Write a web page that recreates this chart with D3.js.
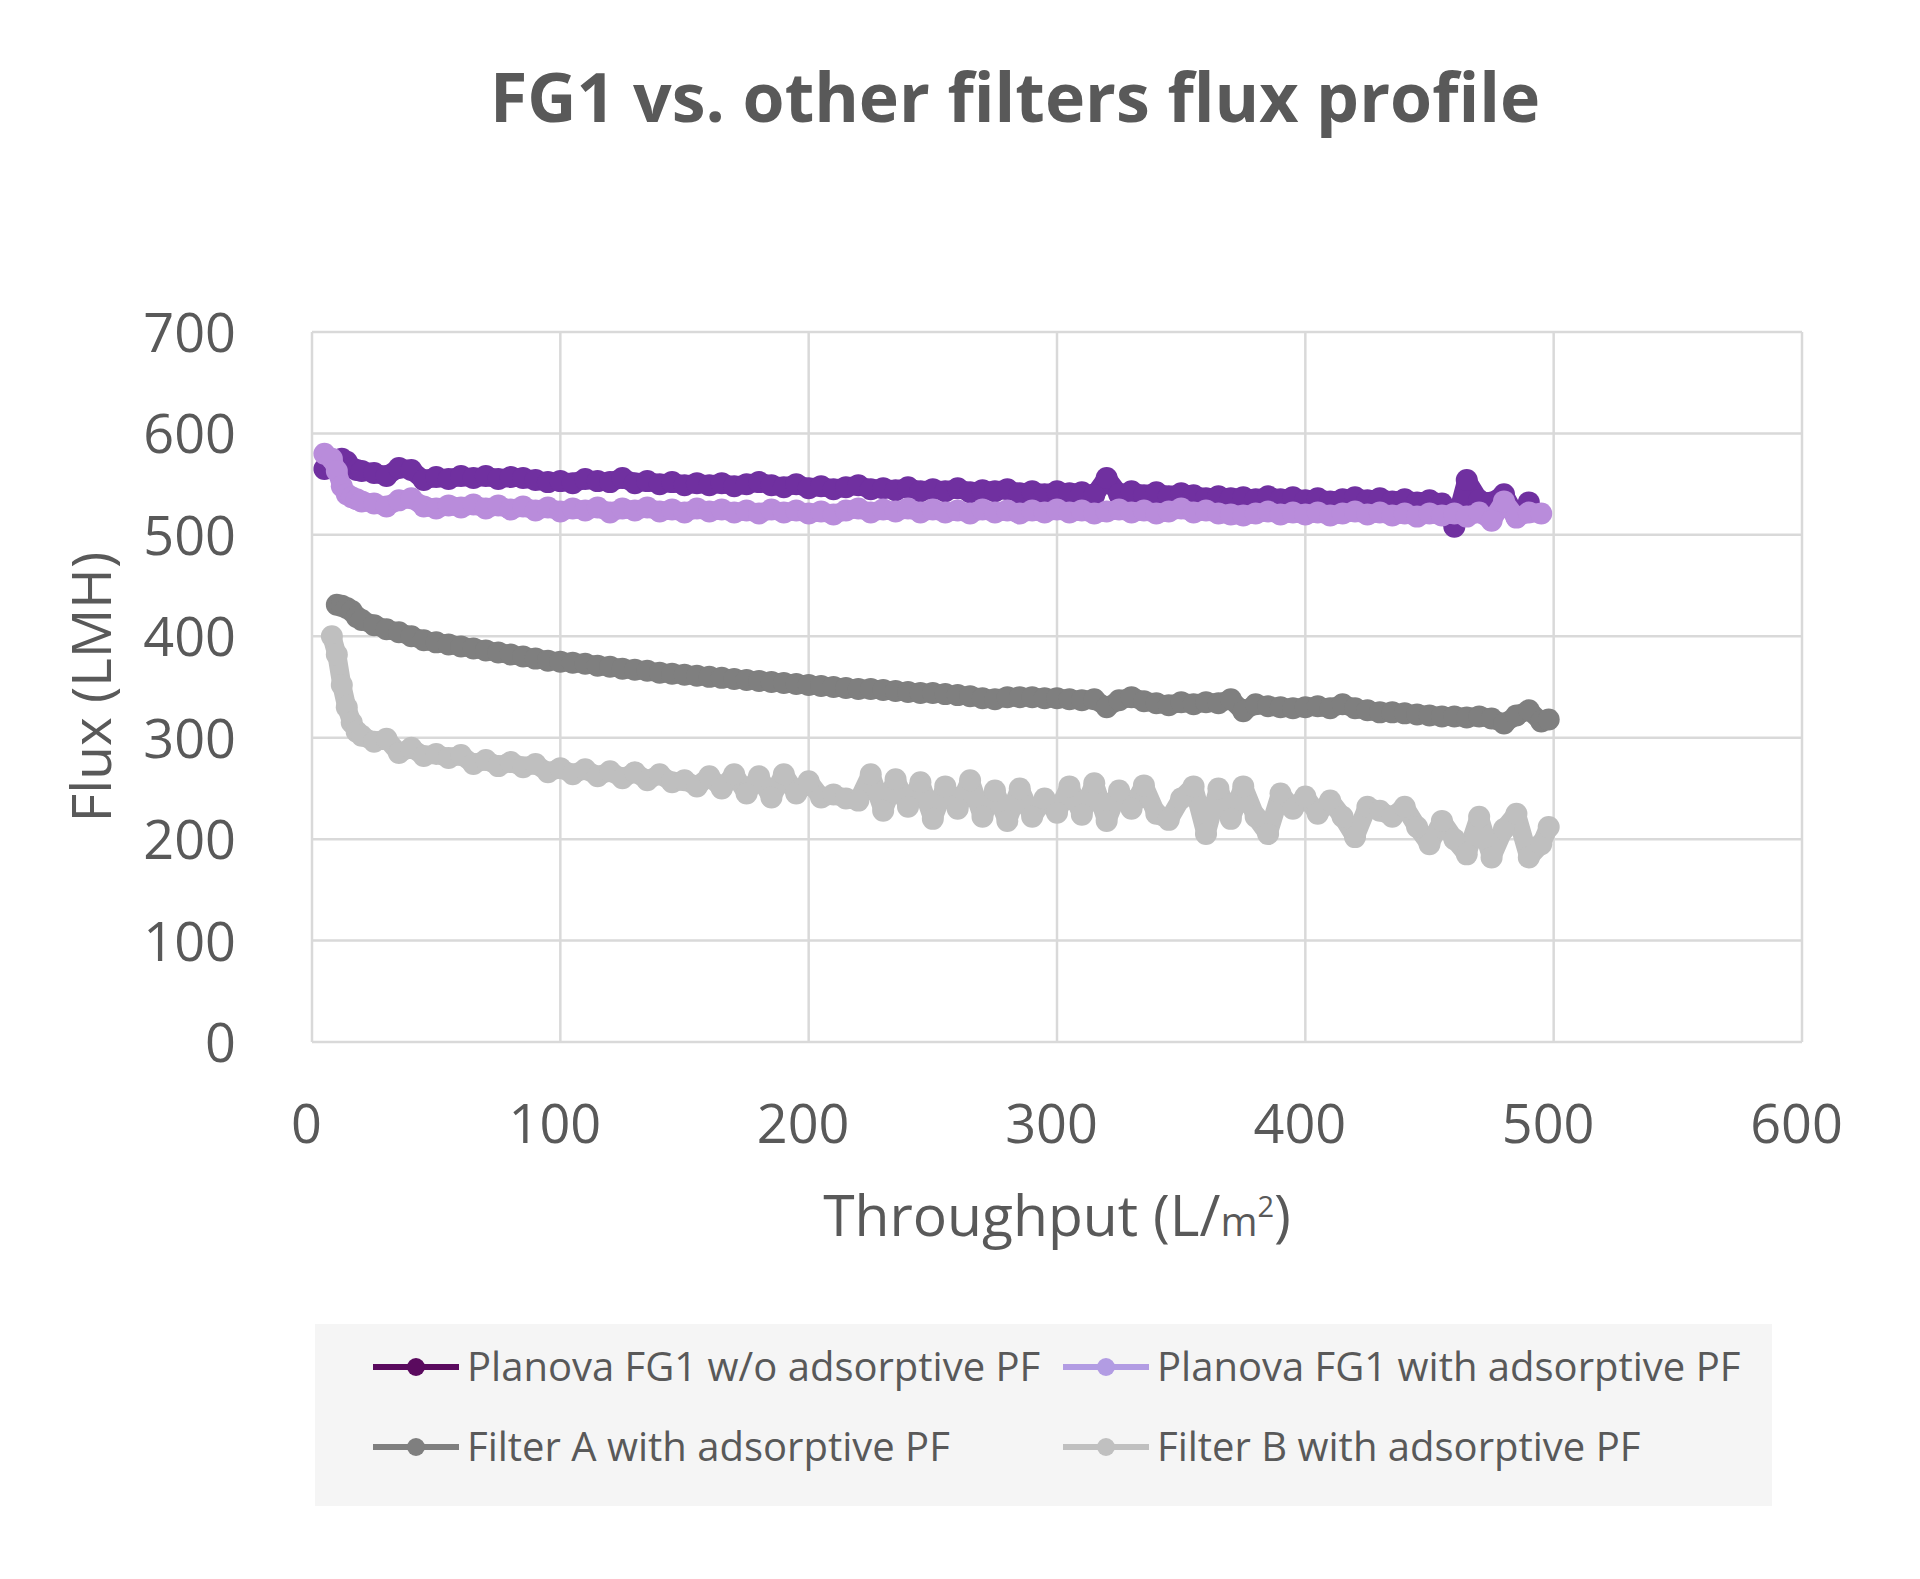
<!DOCTYPE html>
<html>
<head>
<meta charset="utf-8">
<script src="https://cdn.jsdelivr.net/npm/d3@7"></script>
<style>
  body { margin: 0; background: #fff; }
  text { font-family: "Open Sans", sans-serif; fill: #595959; }
</style>
</head>
<body>
<div id="chart"></div>
<script>
// Throughput (L/m2) sample positions
var throughput = [5, 8, 10, 12, 14, 16, 18,
  20, 25, 30, 35, 40, 45, 50, 55, 60, 65,
  70, 75, 80, 85, 90, 95, 100, 105, 110, 115,
  120, 125, 130, 135, 140, 145, 150, 155, 160, 165,
  170, 175, 180, 185, 190, 195, 200, 205, 210, 215,
  220, 225, 230, 235, 240, 245, 250, 255, 260, 265,
  270, 275, 280, 285, 290, 295, 300, 305, 310, 315,
  320, 325, 330, 335, 340, 345, 350, 355, 360, 365,
  370, 375, 380, 385, 390, 395, 400, 405, 410, 415,
  420, 425, 430, 435, 440, 445, 450, 455, 460, 465,
  470, 475, 480, 485, 490, 495, 498];

// Flux (LMH) per series
var fluxFG1NoPF = [565, 567, 570, 575, 572, 566, 564,
  563, 561, 558, 566, 564, 554, 557, 555, 558, 556,
  558, 555, 557, 556, 554, 552, 553, 551, 555, 553,
  552, 556, 551, 553, 550, 552, 549, 551, 549, 551,
  548, 550, 552, 549, 547, 550, 546, 548, 545, 547,
  549, 545, 546, 544, 547, 543, 545, 543, 546, 542,
  544, 543, 545, 541, 543, 540, 543, 541, 542, 539,
  556, 540, 543, 539, 542, 538, 541, 539, 536, 538,
  536, 537, 535, 538, 535, 537, 534, 536, 533, 535,
  537, 534, 536, 533, 535, 532, 534, 531, 508, 554,
  534, 532, 540, 518, 532, null, null];

var fluxFG1PF = [580, 575, 563, 548, 540, 537, 535,
  533, 531, 528, 534, 536, 528, 526, 529, 527, 530,
  526, 529, 525, 528, 524, 527, 523, 526, 524, 527,
  522, 526, 524, 527, 523, 525, 522, 526, 523, 525,
  522, 524, 521, 525, 522, 524, 521, 523, 520, 524,
  526, 522, 525, 523, 526, 522, 525, 522, 524, 521,
  525, 522, 524, 521, 524, 522, 525, 522, 524, 521,
  523, 525, 522, 524, 521, 523, 526, 522, 524, 521,
  520, 519, 521, 523, 520, 522, 520, 522, 519, 521,
  523, 520, 522, 519, 521, 518, 521, 519, 521, 518,
  522, 514, 533, 517, 522, 521, null];

var fluxFilterA = [null, null, 431, 430, 428, 425, 419,
  416, 411, 407, 404, 400, 396, 394, 392, 390, 388,
  386, 384, 382, 380, 378, 376, 375, 374, 373, 371,
  370, 368, 367, 366, 364, 363, 362, 361, 360, 359,
  358, 357, 356, 355, 354, 353, 352, 351, 350, 349,
  348, 348, 347, 346, 345, 344, 344, 343, 342, 341,
  339, 338, 340, 340, 340, 339, 339, 338, 337, 338,
  330, 337, 340, 336, 334, 332, 335, 333, 335, 334,
  338, 326, 333, 331, 330, 329, 330, 331, 329, 333,
  329, 327, 325, 325, 324, 323, 322, 321, 321, 320,
  321, 319, 314, 322, 327, 316, 318];

var fluxFilterB = [null, 400, 382, 352, 330, 315, 306,
  302, 296, 299, 285, 290, 282, 284, 280, 283, 274,
  278, 272, 276, 271, 274, 266, 270, 264, 269, 262,
  267, 260, 266, 258, 264, 256, 258, 252, 262, 250,
  264, 245, 262, 241, 264, 245, 257, 241, 244, 240,
  238, 264, 228, 259, 232, 256, 220, 252, 230, 258,
  222, 248, 218, 250, 222, 240, 226, 252, 224, 255,
  218, 248, 230, 253, 225, 219, 240, 252, 205, 250,
  220, 252, 222, 205, 245, 230, 242, 225, 238, 222,
  202, 232, 228, 222, 232, 212, 195, 218, 200, 185,
  222, 182, 210, 225, 182, 195, 212];

var seriesNames = ["Planova FG1 w/o adsorptive PF", "Planova FG1 with adsorptive PF",
  "Filter A with adsorptive PF", "Filter B with adsorptive PF"];
var seriesValues = [fluxFG1NoPF, fluxFG1PF, fluxFilterA, fluxFilterB];
var lineColors = ["#7030a0", "#b98cdb", "#7f7f7f", "#bfbfbf"];
var legendColors = ["#5a0a5e", "#b29ce3", "#7f7f7f", "#c0c0c0"];

var xTicks = [0, 100, 200, 300, 400, 500, 600];
var yTicks = [0, 100, 200, 300, 400, 500, 600, 700];

var W = 1920, H = 1579;
var plot = {left: 312, right: 1802, top: 332, bottom: 1042};

var svg = d3.select("#chart").append("svg")
  .attr("width", W)
  .attr("height", H);

svg.append("rect").attr("width", W).attr("height", H).attr("fill", "#fff");

var x = d3.scaleLinear().domain([0, 600]).range([plot.left, plot.right]);
var y = d3.scaleLinear().domain([0, 700]).range([plot.bottom, plot.top]);

// grid
var grid = svg.append("g").attr("stroke", "#d9d9d9").attr("stroke-width", 2.5);
grid.selectAll(".vgrid")
  .data(xTicks)
  .enter()
  .append("line")
  .attr("x1", d => x(d)).attr("x2", d => x(d))
  .attr("y1", plot.top).attr("y2", plot.bottom);
grid.selectAll(".hgrid")
  .data(yTicks)
  .enter()
  .append("line")
  .attr("x1", plot.left).attr("x2", plot.right)
  .attr("y1", d => y(d)).attr("y2", d => y(d));

// axes (labels only)
var xAxis = svg.append("g")
  .attr("transform", "translate(0," + plot.bottom + ")")
  .call(d3.axisBottom(x).tickValues(xTicks).tickSize(0).tickFormat(d3.format("d")));
xAxis.select(".domain").remove();
xAxis.selectAll("text")
  .attr("y", 101)
  .attr("dy", 0)
  .attr("dx", -6)
  .style("font-size", "54px")
  .attr("fill", "#595959");

var yAxis = svg.append("g")
  .attr("transform", "translate(" + plot.left + ",0)")
  .call(d3.axisLeft(y).tickValues(yTicks).tickSize(0).tickFormat(d3.format("d")));
yAxis.select(".domain").remove();
yAxis.selectAll("text")
  .attr("x", -76)
  .attr("dy", "0.36em")
  .style("font-size", "54px")
  .attr("fill", "#595959");

// series
var line = d3.line()
  .defined(d => d[1] != null)
  .x(d => x(d[0]))
  .y(d => y(d[1]));

seriesValues.forEach(function(vals, i){
  var pts = throughput.map((t, j) => [t, vals[j]]);
  svg.append("path")
    .datum(pts)
    .attr("fill", "none")
    .attr("stroke", lineColors[i])
    .attr("stroke-width", 19)
    .attr("stroke-linejoin", "round")
    .attr("stroke-linecap", "round")
    .attr("d", line);
  svg.append("g").selectAll("circle")
    .data(pts.filter(d => d[1] != null))
    .enter()
    .append("circle")
    .attr("cx", d => x(d[0]))
    .attr("cy", d => y(d[1]))
    .attr("r", 11)
    .attr("fill", lineColors[i]);
});

// titles
svg.append("text")
  .attr("x", 1015).attr("y", 122)
  .attr("text-anchor", "middle")
  .style("font-size", "68px")
  .style("font-weight", "bold")
  .text("FG1 vs. other filters flux profile");

svg.append("text")
  .attr("transform", "translate(92," + ((plot.top + plot.bottom) / 2) + ") rotate(-90)")
  .attr("text-anchor", "middle")
  .attr("dy", "0.35em")
  .style("font-size", "55px")
  .text("Flux (LMH)");

var xt = svg.append("text")
  .attr("x", (plot.left + plot.right) / 2).attr("y", 1236)
  .attr("text-anchor", "middle")
  .style("font-size", "57px");
xt.append("tspan").text("Throughput (L/");
xt.append("tspan").style("font-size", "40px").text("m");
xt.append("tspan").style("font-size", "29px").attr("dy", -19).text("2");
xt.append("tspan").attr("dy", 19).text(")");

// legend
svg.append("rect")
  .attr("x", 315).attr("y", 1324)
  .attr("width", 1457).attr("height", 182)
  .attr("fill", "#f5f5f5");

var legendPos = [[373, 1367], [1063, 1367], [373, 1447], [1063, 1447]];
var leg = svg.append("g").selectAll("g")
  .data(seriesNames)
  .enter()
  .append("g")
  .attr("transform", (d, i) => "translate(" + legendPos[i][0] + "," + legendPos[i][1] + ")");
leg.append("line")
  .attr("x1", 0).attr("x2", 86)
  .attr("stroke", (d, i) => legendColors[i])
  .attr("stroke-width", 6);
leg.append("circle")
  .attr("cx", 43).attr("r", 9)
  .attr("fill", (d, i) => legendColors[i]);
leg.append("text")
  .attr("x", 94)
  .attr("dy", "0.35em")
  .style("font-size", "40px")
  .text(d => d);
</script>
</body>
</html>
